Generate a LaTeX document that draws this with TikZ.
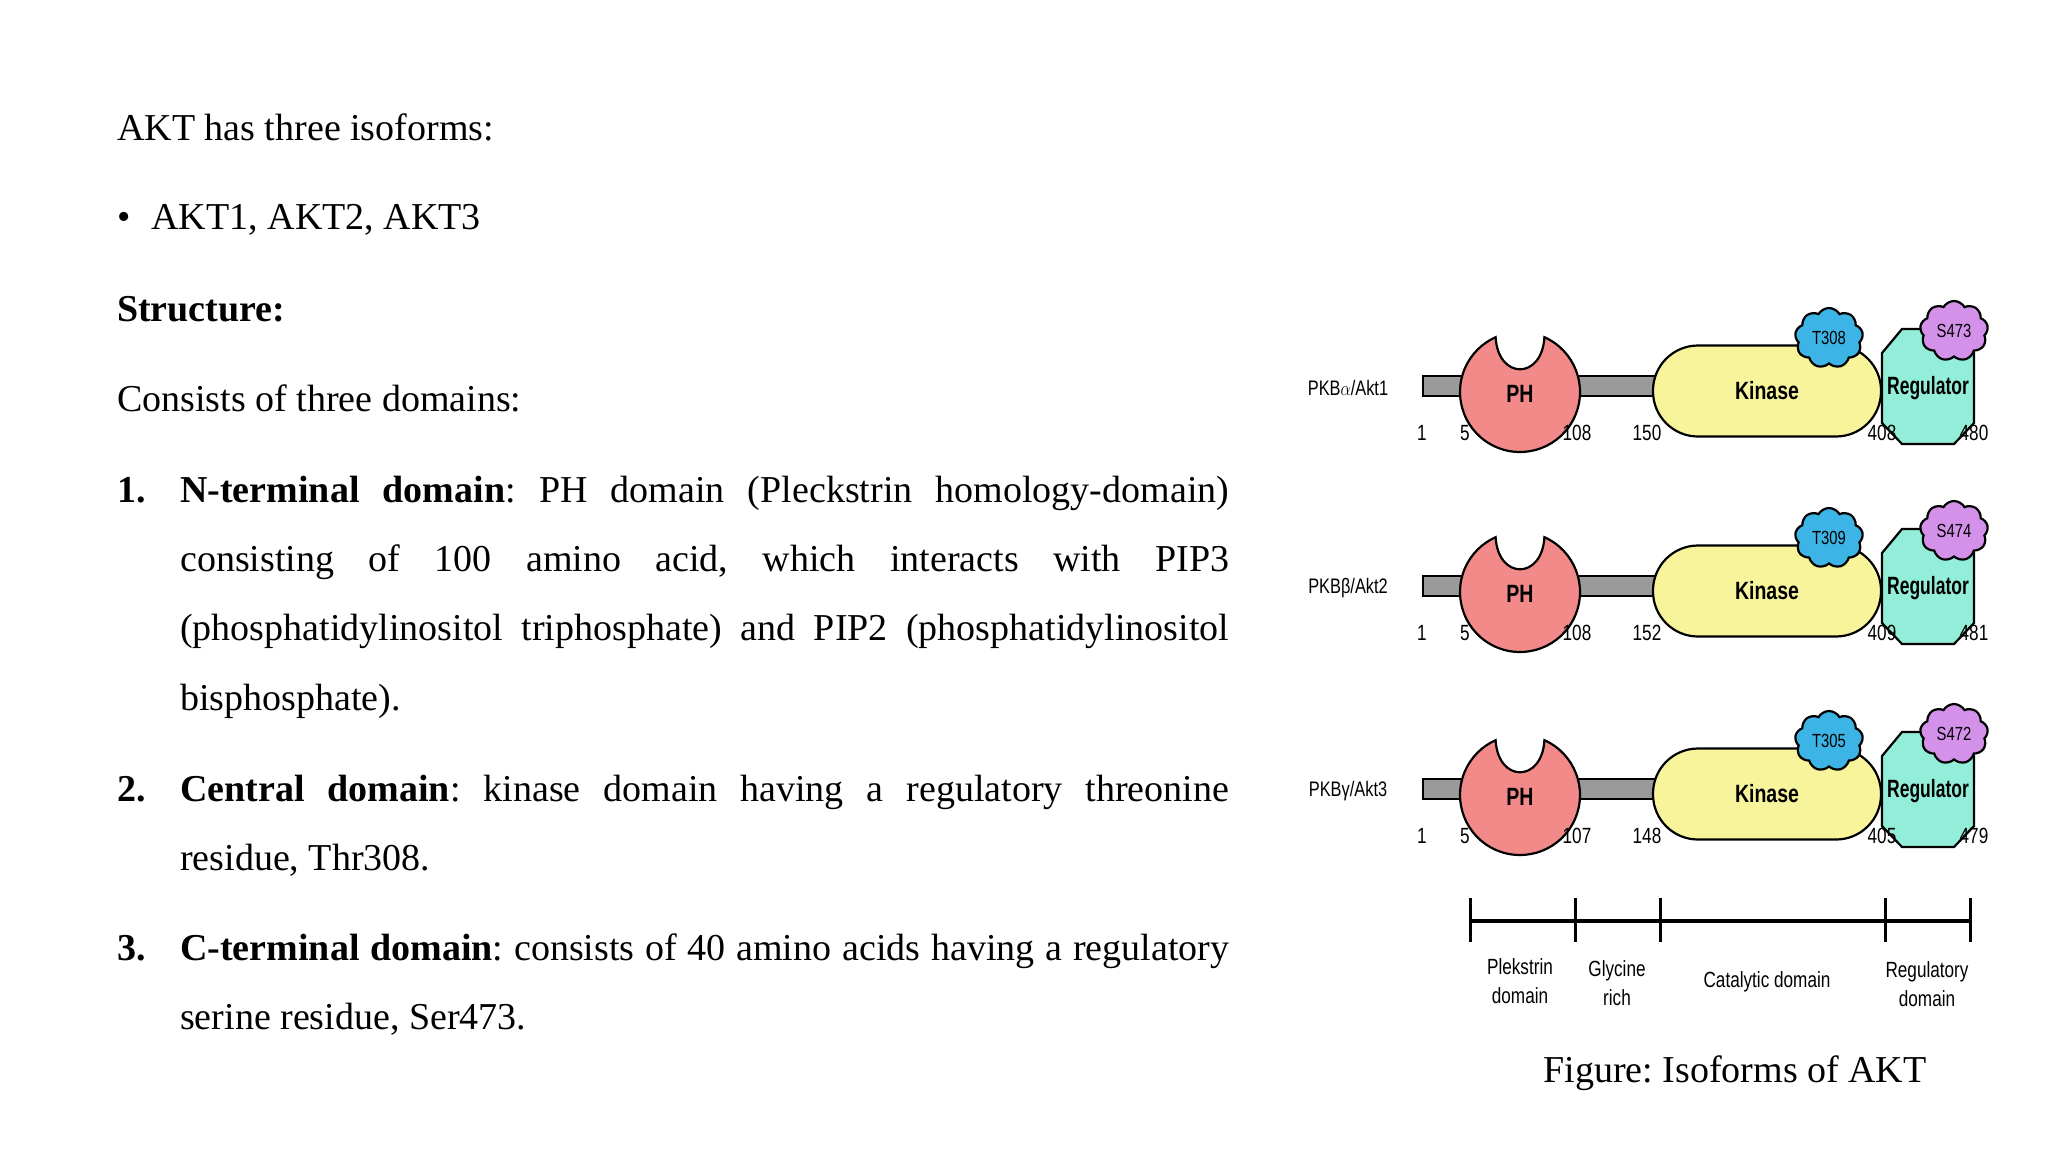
\documentclass[tikz,border=0pt]{standalone}
\usepackage{fontspec}
\setmainfont{Liberation Serif}
\newfontfamily\figfont{Liberation Sans}
\usetikzlibrary{shapes.symbols}
\definecolor{phpink}{HTML}{F28A8A}
\definecolor{kinyel}{HTML}{F8F49C}
\definecolor{regaqua}{HTML}{92EED8}
\definecolor{tblue}{HTML}{3DB4E6}
\definecolor{sviolet}{HTML}{D391EA}
\definecolor{bargray}{HTML}{9A9A9A}
\newcommand\cnd[1]{\scalebox{0.78}[1]{#1}}
\tikzset{
  body/.style={anchor=base west,inner sep=0pt,font=\fontsize{38}{44}\selectfont},
  lbl/.style={inner sep=0pt,font=\figfont\fontsize{21}{24}\selectfont},
  dom/.style={inner sep=0pt,font=\figfont\bfseries\fontsize{25}{28}\selectfont},
  num/.style={inner sep=0pt,font=\figfont\fontsize{22}{24}\selectfont},
  outl/.style={draw=black,line width=2.2pt},
  puff/.style={cloud,cloud puffs=9,cloud puff arc=120,aspect=1.1,outl,minimum width=68pt,minimum height=60pt,inner sep=0pt,font=\figfont\fontsize{19}{20}\selectfont},
  sbar/.style={line width=3.5pt},
  slbl/.style={inner sep=0pt,align=center,font=\figfont\fontsize{22}{29}\selectfont},
}
\newcommand\aktrow[9]{%
  \node[lbl] (lab#9) at (1348,#1) {\cnd{#2}};
  \node[outl,fill=bargray,minimum width=238pt,minimum height=20pt,inner sep=0pt,anchor=west] (bar#9) at (1422,#1-2) {};
  \begin{scope}[shift={(1520,#1+4)}]
    \filldraw[outl,fill=phpink,y=1pt] (66:60) arc[start angle=66,end angle=-246,radius=60] .. controls (-22,12) and (22,12) .. cycle;
  \end{scope}
  \node[dom] (ph#9) at (1520,#1+6) {\cnd{PH}};
  \node[outl,fill=kinyel,rounded corners=45pt,minimum width=228pt,minimum height=91pt,inner sep=0pt] (kin#9) at (1767,#1+3) {};
  \node[dom] at (kin#9) {\cnd{Kinase}};
  \filldraw[outl,fill=regaqua] (1882,#1-35) -- (1902,#1-59) -- (1954,#1-59) -- (1974,#1-35) -- (1974,#1+35) -- (1954,#1+56) -- (1902,#1+56) -- (1882,#1+35) -- cycle;
  \node[dom] (reg#9) at (1928,#1) {\scalebox{0.7}[1]{Regulator}};
  \node[puff,fill=tblue] (t#9) at (1829,#1-50) {\cnd{#3}};
  \node[puff,fill=sviolet] (s#9) at (1954,#1-57) {\cnd{#4}};
  \node[num] (a#9) at (1422,#1+45) {\cnd{1}};
  \node[num] (b#9) at (1465,#1+45) {\cnd{5}};
  \node[num] (c#9) at (1577,#1+45) {\cnd{#5}};
  \node[num] (d#9) at (1647,#1+45) {\cnd{#6}};
  \node[num] (e#9) at (1882,#1+45) {\cnd{#7}};
  \node[num] (f#9) at (1974,#1+45) {\cnd{#8}};
}
\begin{document}
\frenchspacing
\begin{tikzpicture}[x=1pt,y=-1pt]
\useasboundingbox (0,0) rectangle (2048,1152);
\node[body] (t1) at (117,140) {AKT has three isoforms:};
\node[body] (t2) at (117,229) {\textbullet\hspace{21pt}AKT1, AKT2, AKT3};
\node[body] (t3) at (117,321) {\textbf{Structure:}};
\node[body] (t4) at (117,411) {Consists of three domains:};
\node[body] (n1) at (117,502) {\textbf{1.}};
\node[body] (l1) at (180,502) {\makebox[1049pt][s]{\textbf{N-terminal domain}: PH domain (Pleckstrin homology-domain)}};
\node[body] (l2) at (180,571) {\makebox[1049pt][s]{consisting of 100 amino acid, which interacts with PIP3}};
\node[body] (l3) at (180,640) {\makebox[1049pt][s]{(phosphatidylinositol triphosphate) and PIP2 (phosphatidylinositol}};
\node[body] (l4) at (180,710) {bisphosphate).};
\node[body] (n2) at (117,801) {\textbf{2.}};
\node[body] (l5) at (180,801) {\makebox[1049pt][s]{\textbf{Central domain}: kinase domain having a regulatory threonine}};
\node[body] (l6) at (180,870) {residue, Thr308.};
\node[body] (n3) at (117,960) {\textbf{3.}};
\node[body] (l7) at (180,960) {\makebox[1049pt][s]{\textbf{C-terminal domain}: consists of 40 amino acids having a regulatory}};
\node[body] (l8) at (180,1029) {serine residue, Ser473.};

\aktrow{388}{PKB$\alpha$/Akt1}{T308}{S473}{108}{150}{408}{480}{A}
\aktrow{588}{PKBβ/Akt2}{T309}{S474}{108}{152}{409}{481}{B}
\aktrow{791}{PKBγ/Akt3}{T305}{S472}{107}{148}{405}{479}{C}

\coordinate (k1) at (1470,921);
\coordinate (k2) at (1575,921);
\coordinate (k3) at (1660,921);
\coordinate (k4) at (1885,921);
\coordinate (k5) at (1970,921);
\draw[sbar] (k1) -- (k5);
\foreach \k in {k1,k2,k3,k4,k5} \draw[line width=3pt] ([yshift=-21pt]\k) -- ([yshift=23pt]\k);
\node[slbl] (p1) at (1520,981) {\cnd{Plekstrin}\\\cnd{domain}};
\node[slbl] (p2) at (1617,983) {\cnd{Glycine}\\\cnd{rich}};
\node[slbl] (p3) at (1767,982) {\cnd{Catalytic domain}};
\node[slbl] (p4) at (1927,984) {\cnd{Regulatory}\\\cnd{domain}};
\node[inner sep=0pt,font=\fontsize{38}{44}\selectfont] (cap) at (1735,1073) {Figure: Isoforms of AKT};
\end{tikzpicture}
\end{document}
